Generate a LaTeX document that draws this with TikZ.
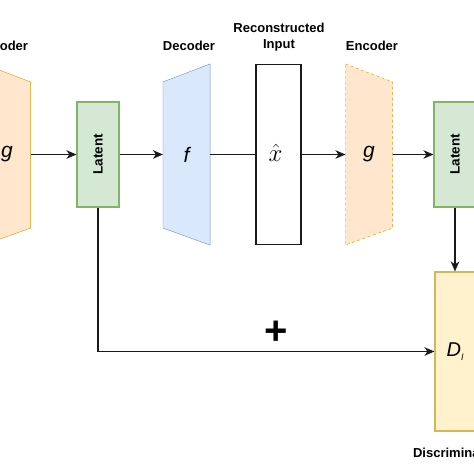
\documentclass[tikz,border=0pt]{standalone}
\usepackage{fontspec}
\setmainfont{Liberation Sans}
\usetikzlibrary{arrows.meta,backgrounds}
\definecolor{encfill}{HTML}{FFE6CC}
\definecolor{encdraw}{HTML}{D79B00}
\definecolor{latfill}{HTML}{D5E8D4}
\definecolor{latdraw}{HTML}{82B366}
\definecolor{decfill}{HTML}{DAE8FC}
\definecolor{decdraw}{HTML}{6C8EBF}
\definecolor{disfill}{HTML}{FFF2CC}
\definecolor{disdraw}{HTML}{D6B656}
\definecolor{ink}{HTML}{1A1A1A}
\begin{document}
\begin{tikzpicture}[x=1pt,y=-1pt,line width=1.1pt,
  arr/.style={draw=ink,line width=1.5pt,-{Stealth[length=10pt,width=8.5pt,inset=3pt]}},
  conn/.style={draw=ink,line width=1.5pt},
  lbl/.style={font=\fontsize{13}{16}\selectfont\bfseries,align=center,inner sep=0pt},
  blk/.style={draw=none,minimum width=46pt,minimum height=180pt,inner sep=0pt,font=\fontsize{21}{21}\selectfont\itshape},
  latbox/.style={draw=latdraw,fill=latfill,minimum width=42pt,minimum height=105pt,inner sep=0pt},
  lattext/.style={rotate=90,font=\fontsize{13.5}{14}\selectfont\bfseries}]
\useasboundingbox (0,0) rectangle (474,474);
\clip (0,0) rectangle (474,474);

% blocks
\node[blk] (enc1) at (7,154.5) {g};
\node[latbox] (lat1) at (98,154.5) {};
\node[lattext] at (lat1.center) {Latent};
\node[blk] (dec) at (186.5,154.5) {f};
\node[draw=ink,fill=white,minimum width=45pt,minimum height=180pt,inner sep=0pt,font=\fontsize{29}{29}\selectfont] (rec) at (278.5,154.5) {\hspace*{-6pt}\raisebox{2.5pt}{$\hat{x}$}};
\node[blk] (enc2) at (369,154.5) {g};
\node[latbox] (lat2) at (455,154.5) {};
\node[lattext] at (lat2.center) {Latent};
\node[draw=disdraw,fill=disfill,minimum width=42pt,minimum height=159pt,inner sep=0pt] (dis) at (456,351.5) {};
\node[font=\fontsize{20}{20}\selectfont\itshape] (dl) at (455,352) {D\kern0.5pt\raisebox{-4pt}{\fontsize{9}{9}\selectfont l}};

\begin{scope}[on background layer]
  \draw[draw=encdraw,fill=encfill] (enc1.north west) -- ([yshift=-18pt]enc1.north east) -- ([yshift=17pt]enc1.south east) -- (enc1.south west) -- cycle;
  \draw[draw=decdraw,fill=decfill] ([yshift=-18pt]dec.north west) -- (dec.north east) -- (dec.south east) -- ([yshift=17pt]dec.south west) -- cycle;
  \draw[draw=encdraw,fill=encfill,dash pattern=on 3pt off 2.5pt] (enc2.north west) -- ([yshift=-18pt]enc2.north east) -- ([yshift=17pt]enc2.south east) -- (enc2.south west) -- cycle;
\end{scope}

% labels
\node[lbl] (l1) at (2,46) {Encoder};
\node[lbl] (l2) at (189,46) {Decoder};
\node[lbl] (l3) at (279,37) {Reconstructed\\Input};
\node[lbl] (l4) at (372,46) {Encoder};
\node[lbl] (l5) at (455,453) {Discriminator};
\node[font=\fontsize{40}{40}\selectfont\bfseries] (plus) at (276,333) {+};

% connectors
\draw[arr] (enc1.east) -- (lat1.west);
\draw[arr] (lat1.east) -- (lat1.east -| dec.west);
\draw[conn] (dec.east) -- (rec.west);
\draw[arr] (rec.east) -- (enc2.west);
\draw[arr] (enc2.east) -- (lat2.west);
\draw[arr] (lat2.south) -- (lat2.south |- dis.north);
\draw[arr] (lat1.south) |- (dis.west);
\end{tikzpicture}
\end{document}
